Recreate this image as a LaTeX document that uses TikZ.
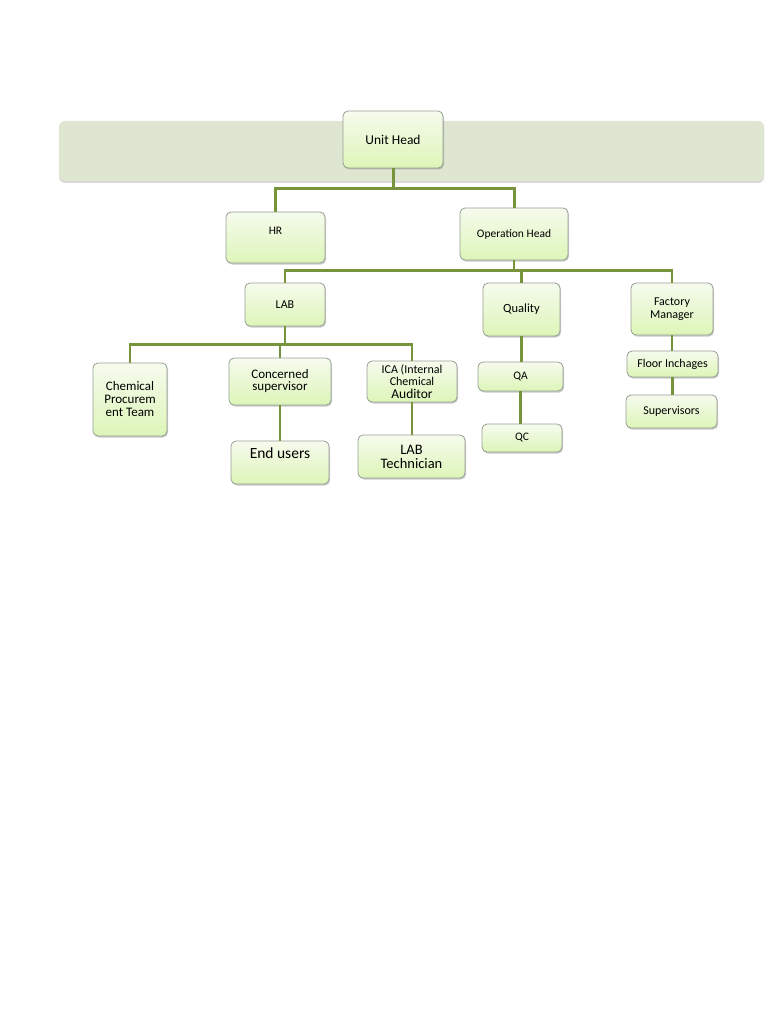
\documentclass[tikz,border=0pt]{standalone}
\usepackage{fontspec}
\setmainfont{Carlito}
\usetikzlibrary{shadows}
\definecolor{bandgreen}{RGB}{222,230,210}
\definecolor{linkgreen}{RGB}{119,147,60}
\definecolor{boxtop}{RGB}{246,251,238}
\definecolor{boxbottom}{RGB}{221,245,184}
\definecolor{boxline}{RGB}{150,158,148}

\tikzset{
	unit/.style={draw=boxline,line width=0.8pt,rounded corners=5pt,top color=boxtop,bottom color=boxbottom,
		drop shadow={shadow xshift=1pt,shadow yshift=-1.5pt,opacity=0.35,fill=black!60},
		align=center,inner sep=1pt,text=black},
	link/.style={linkgreen,line width=2.4pt},
}

\begin{document}
\begin{tikzpicture}[x=1pt,y=-1pt]
	\useasboundingbox (0,0) rectangle (768,1024);
	% band behind the head
	\fill[bandgreen,rounded corners=6pt,drop shadow={shadow xshift=0pt,shadow yshift=-2pt,opacity=0.3,fill=black!50}] (59,121) rectangle (764,181);

	\node[unit,minimum width=100,minimum height=57,font=\fontsize{13.5}{15}\selectfont] (unit) at (393,139.5) {Unit Head};
	\node[unit,minimum width=99,minimum height=51,font=\fontsize{11.5}{13}\selectfont,text depth=14pt] (hr) at (275.5,237.5) {HR};
	\node[unit,minimum width=108,minimum height=52,font=\fontsize{11.5}{13}\selectfont] (ophead) at (514,234) {Operation Head};

	\node[unit,minimum width=80,minimum height=43,font=\fontsize{12}{13}\selectfont] (lab) at (285,304.5) {LAB};
	\node[unit,minimum width=77,minimum height=53,font=\fontsize{12.5}{14}\selectfont] (quality) at (521.5,309.5) {Quality};
	\node[unit,minimum width=82,minimum height=52,font=\fontsize{12}{12.5}\selectfont] (factory) at (672,309) {Factory\\Manager};

	\node[unit,minimum width=74,minimum height=73,font=\fontsize{13}{13}\selectfont] (chem) at (130,399.5) {Chemical\\Procurem\\ent Team};
	\node[unit,minimum width=102,minimum height=47,font=\fontsize{13}{12.5}\selectfont,text depth=3pt] (concern) at (280,381.5) {Concerned\\supervisor};
	\node[unit,minimum width=90,minimum height=41,font=\fontsize{12}{12.5}\selectfont] (ica) at (412,381.5) {ICA (Internal\\Chemical\\\fontsize{13.5}{13}\selectfont Auditor};
	\node[unit,minimum width=98,minimum height=43,font=\fontsize{15.5}{15}\selectfont,text depth=18pt] (endusers) at (280,462.5) {End users};
	\node[unit,minimum width=107,minimum height=43,font=\fontsize{14.5}{14}\selectfont] (labtech) at (411.5,456.5) {LAB\\Technician};

	\node[unit,minimum width=85,minimum height=29,font=\fontsize{11.5}{13}\selectfont] (qa) at (520.5,376.5) {QA};
	\node[unit,minimum width=80,minimum height=28,font=\fontsize{11.5}{13}\selectfont] (qc) at (522,438) {QC};
	\node[unit,minimum width=91,minimum height=26,font=\fontsize{12}{13}\selectfont] (floor) at (672.5,364) {Floor Inchages};
	\node[unit,minimum width=91,minimum height=33,font=\fontsize{12}{13}\selectfont] (superv) at (671.5,411.5) {Supervisors};

	% connectors
	\draw[link,line width=3pt] (unit.south) -- ++(0,20) -| (hr.north);
	\draw[link,line width=3pt] (unit.south) -- ++(0,20) -| (ophead.north);
	\foreach \child in {lab,quality,factory}{
		\draw[link] (ophead.south) -- ++(0,10) -| (\child.north);
	}
	\foreach \child in {chem,concern,ica}{
		\draw[link] (lab.south) -- ++(0,18) -| (\child.north);
	}
	\draw[link] (concern.south) -- (concern.south |- endusers.north);
	\draw[link] (ica.south) -- (ica.south |- labtech.north);
	\draw[link] (quality.south) -- (quality.south |- qa.north);
	\draw[link] (qa.south) -- (qa.south |- qc.north);
	\draw[link] (factory.south) -- (factory.south |- floor.north);
	\draw[link] (floor.south) -- (floor.south |- superv.north);
\end{tikzpicture}
\end{document}
